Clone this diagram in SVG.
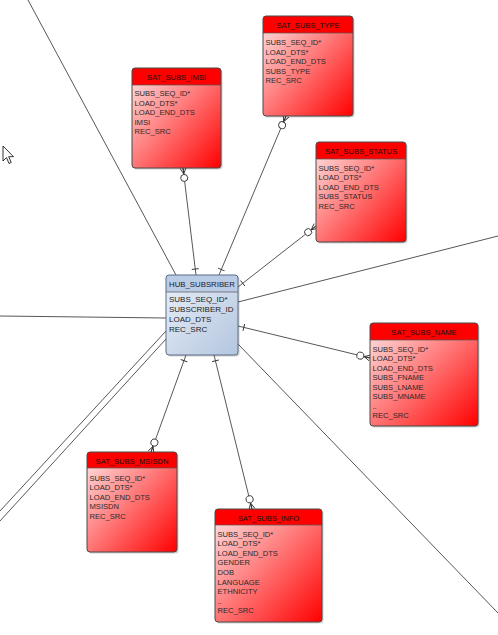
<svg xmlns="http://www.w3.org/2000/svg" width="498" height="635" viewBox="0 0 498 635">
<defs>
<linearGradient id="redg" x1="0" y1="0" x2="1" y2="1">
<stop offset="0" stop-color="#ffe6e6"/>
<stop offset="0.45" stop-color="#ff8080"/>
<stop offset="1" stop-color="#ff0000"/>
</linearGradient>
<linearGradient id="blueg" x1="0" y1="0" x2="1" y2="1">
<stop offset="0" stop-color="#eaf0f8"/>
<stop offset="1" stop-color="#b3c5df"/>
</linearGradient>
<g id="many" class="deco"><path d="M0,-3 L6,0 L0,3 M0,0 L6,0"/><circle cx="10" cy="0" r="3.5"/></g>
<g id="one" class="deco"><path d="M6,-3.5 L6,3.5"/></g>
<style>
.conn line{stroke:#444;stroke-width:0.9;fill:none}
.deco path{stroke:#333;stroke-width:0.9;fill:none}
.deco circle{stroke:#333;stroke-width:0.9;fill:#fff}
.shadow{fill:#000;opacity:0.18}
.satbody{fill:url(#redg)}
.sathead{fill:#ff0000}
.hubbody{fill:url(#blueg)}
.hubhead{fill:#b9cbe5}
.border{fill:none;stroke:#4a4a4a;stroke-width:1}
.hubborder{fill:none;stroke:#5c6c86;stroke-width:1}
.sep{stroke:#555;stroke-width:0.7}
text{font-family:"Liberation Sans",Arial,sans-serif}
.t{font-size:7.6px;fill:#111;text-anchor:middle}
.r{font-size:7.6px;fill:#2a2a2a}
.ht{font-size:7.8px;fill:#1a1a2a;text-anchor:middle}
.hr{font-size:8px;fill:#222}
</style>
</defs>
<rect width="498" height="635" fill="#fff"/>

<g id="connectors" class="conn">
<line x1="28" y1="0" x2="176" y2="275"/>
<line x1="0" y1="316" x2="166" y2="318"/>
<line x1="0" y1="511" x2="166" y2="331"/>
<line x1="0" y1="521" x2="166" y2="339"/>
<line x1="238" y1="302" x2="498" y2="236"/>
<line x1="238" y1="344" x2="498" y2="613"/>

<line x1="183" y1="168" x2="196" y2="275"/>
<use href="#many" transform="translate(183,168) rotate(83.07)"/>
<use href="#one" transform="translate(196,275) rotate(263.07)"/>

<line x1="286" y1="116" x2="219" y2="275"/>
<use href="#many" transform="translate(286,116) rotate(112.85)"/>
<use href="#one" transform="translate(219,275) rotate(-67.15)"/>

<line x1="316" y1="226" x2="238" y2="287"/>
<use href="#many" transform="translate(316,226) rotate(141.98)"/>
<use href="#one" transform="translate(238,287) rotate(-38.02)"/>

<line x1="370" y1="358" x2="238" y2="326"/>
<use href="#many" transform="translate(370,358) rotate(193.63)"/>
<use href="#one" transform="translate(238,326) rotate(13.63)"/>

<line x1="151" y1="452" x2="186" y2="355"/>
<use href="#many" transform="translate(151,452) rotate(-70.16)"/>
<use href="#one" transform="translate(186,355) rotate(109.84)"/>

<line x1="252" y1="509" x2="214" y2="355"/>
<use href="#many" transform="translate(252,509) rotate(-103.86)"/>
<use href="#one" transform="translate(214,355) rotate(76.14)"/>
</g>

<g id="cursor">
<path d="M3,146 L3,161 L6.5,157.5 L9,163.5 L11.2,162.5 L8.7,156.7 L13.5,156.7 Z" fill="#fff" stroke="#000" stroke-width="0.8"/>
</g>

<g id="sat_subs_type">
<rect class="shadow" x="264.5" y="17.5" width="90" height="100" rx="3"/>
<rect class="satbody" x="263" y="16" width="90" height="100" rx="3"/>
<path class="sathead" d="M263,33 V19 Q263,16 266,16 H350 Q353,16 353,19 V33 Z"/>
<line class="sep" x1="263" y1="33" x2="353" y2="33"/>
<rect class="border" x="263" y="16" width="90" height="100" rx="3"/>
<text class="t" x="308" y="28">SAT_SUBS_TYPE</text>
<text class="r" x="265.5" y="45">SUBS_SEQ_ID*</text>
<text class="r" x="265.5" y="54.6">LOAD_DTS*</text>
<text class="r" x="265.5" y="64.2">LOAD_END_DTS</text>
<text class="r" x="265.5" y="73.8">SUBS_TYPE</text>
<text class="r" x="265.5" y="83.4">REC_SRC</text>
</g>

<g id="sat_subs_imsi">
<rect class="shadow" x="133.5" y="69.5" width="89" height="100" rx="3"/>
<rect class="satbody" x="132" y="68" width="89" height="100" rx="3"/>
<path class="sathead" d="M132,85 V71 Q132,68 135,68 H218 Q221,68 221,71 V85 Z"/>
<line class="sep" x1="132" y1="85" x2="221" y2="85"/>
<rect class="border" x="132" y="68" width="89" height="100" rx="3"/>
<text class="t" x="176.5" y="80">SAT_SUBS_IMSI</text>
<text class="r" x="134.5" y="96">SUBS_SEQ_ID*</text>
<text class="r" x="134.5" y="105.6">LOAD_DTS*</text>
<text class="r" x="134.5" y="115.2">LOAD_END_DTS</text>
<text class="r" x="134.5" y="124.8">IMSI</text>
<text class="r" x="134.5" y="134.4">REC_SRC</text>
</g>

<g id="sat_subs_status">
<rect class="shadow" x="317.5" y="143.5" width="90" height="100" rx="3"/>
<rect class="satbody" x="316" y="142" width="90" height="100" rx="3"/>
<path class="sathead" d="M316,159 V145 Q316,142 319,142 H403 Q406,142 406,145 V159 Z"/>
<line class="sep" x1="316" y1="159" x2="406" y2="159"/>
<rect class="border" x="316" y="142" width="90" height="100" rx="3"/>
<text class="t" x="361" y="154">SAT_SUBS_STATUS</text>
<text class="r" x="318.5" y="170.5">SUBS_SEQ_ID*</text>
<text class="r" x="318.5" y="180.1">LOAD_DTS*</text>
<text class="r" x="318.5" y="189.7">LOAD_END_DTS</text>
<text class="r" x="318.5" y="199.3">SUBS_STATUS</text>
<text class="r" x="318.5" y="208.9">REC_SRC</text>
</g>

<g id="hub_subsriber">
<rect class="shadow" x="167.5" y="276.5" width="72" height="80" rx="3"/>
<rect class="hubbody" x="166" y="275" width="72" height="80" rx="3"/>
<path class="hubhead" d="M166,292 V278 Q166,275 169,275 H235 Q238,275 238,278 V292 Z"/>
<line class="sep" x1="166" y1="292" x2="238" y2="292"/>
<rect class="hubborder" x="166" y="275" width="72" height="80" rx="3"/>
<text class="ht" x="202" y="286.5">HUB_SUBSRIBER</text>
<text class="hr" x="169" y="301.5">SUBS_SEQ_ID*</text>
<text class="hr" x="169" y="311.8">SUBSCRIBER_ID</text>
<text class="hr" x="169" y="322.1">LOAD_DTS</text>
<text class="hr" x="169" y="332.4">REC_SRC</text>
</g>

<g id="sat_subs_name">
<rect class="shadow" x="371.5" y="324.5" width="108" height="103" rx="3"/>
<rect class="satbody" x="370" y="323" width="108" height="103" rx="3"/>
<path class="sathead" d="M370,340 V326 Q370,323 373,323 H475 Q478,323 478,326 V340 Z"/>
<line class="sep" x1="370" y1="340" x2="478" y2="340"/>
<rect class="border" x="370" y="323" width="108" height="103" rx="3"/>
<text class="t" x="424" y="335">SAT_SUBS_NAME</text>
<text class="r" x="372.5" y="351.5">SUBS_SEQ_ID*</text>
<text class="r" x="372.5" y="361">LOAD_DTS*</text>
<text class="r" x="372.5" y="370.5">LOAD_END_DTS</text>
<text class="r" x="372.5" y="380">SUBS_FNAME</text>
<text class="r" x="372.5" y="389.5">SUBS_LNAME</text>
<text class="r" x="372.5" y="399">SUBS_MNAME</text>
<text class="r" x="372.5" y="408.5">..</text>
<text class="r" x="372.5" y="418">REC_SRC</text>
</g>

<g id="sat_subs_msisdn">
<rect class="shadow" x="88.5" y="453.5" width="90" height="100" rx="3"/>
<rect class="satbody" x="87" y="452" width="90" height="100" rx="3"/>
<path class="sathead" d="M87,468 V455 Q87,452 90,452 H174 Q177,452 177,455 V468 Z"/>
<line class="sep" x1="87" y1="468" x2="177" y2="468"/>
<rect class="border" x="87" y="452" width="90" height="100" rx="3"/>
<text class="t" x="132" y="463.5">SAT_SUBS_MSISDN</text>
<text class="r" x="89.5" y="480.5">SUBS_SEQ_ID*</text>
<text class="r" x="89.5" y="490.1">LOAD_DTS*</text>
<text class="r" x="89.5" y="499.7">LOAD_END_DTS</text>
<text class="r" x="89.5" y="509.3">MSISDN</text>
<text class="r" x="89.5" y="518.9">REC_SRC</text>
</g>

<g id="sat_subs_info">
<rect class="shadow" x="216.5" y="510.5" width="107" height="113" rx="3"/>
<rect class="satbody" x="215" y="509" width="107" height="113" rx="3"/>
<path class="sathead" d="M215,525 V512 Q215,509 218,509 H319 Q322,509 322,512 V525 Z"/>
<line class="sep" x1="215" y1="525" x2="322" y2="525"/>
<rect class="border" x="215" y="509" width="107" height="113" rx="3"/>
<text class="t" x="268.5" y="520.5">SAT_SUBS_INFO</text>
<text class="r" x="217.5" y="536.5">SUBS_SEQ_ID*</text>
<text class="r" x="217.5" y="546.1">LOAD_DTS*</text>
<text class="r" x="217.5" y="555.7">LOAD_END_DTS</text>
<text class="r" x="217.5" y="565.3">GENDER</text>
<text class="r" x="217.5" y="574.9">DOB</text>
<text class="r" x="217.5" y="584.5">LANGUAGE</text>
<text class="r" x="217.5" y="594.1">ETHNICITY</text>
<text class="r" x="217.5" y="603.7">..</text>
<text class="r" x="217.5" y="613.3">REC_SRC</text>
</g>
</svg>
